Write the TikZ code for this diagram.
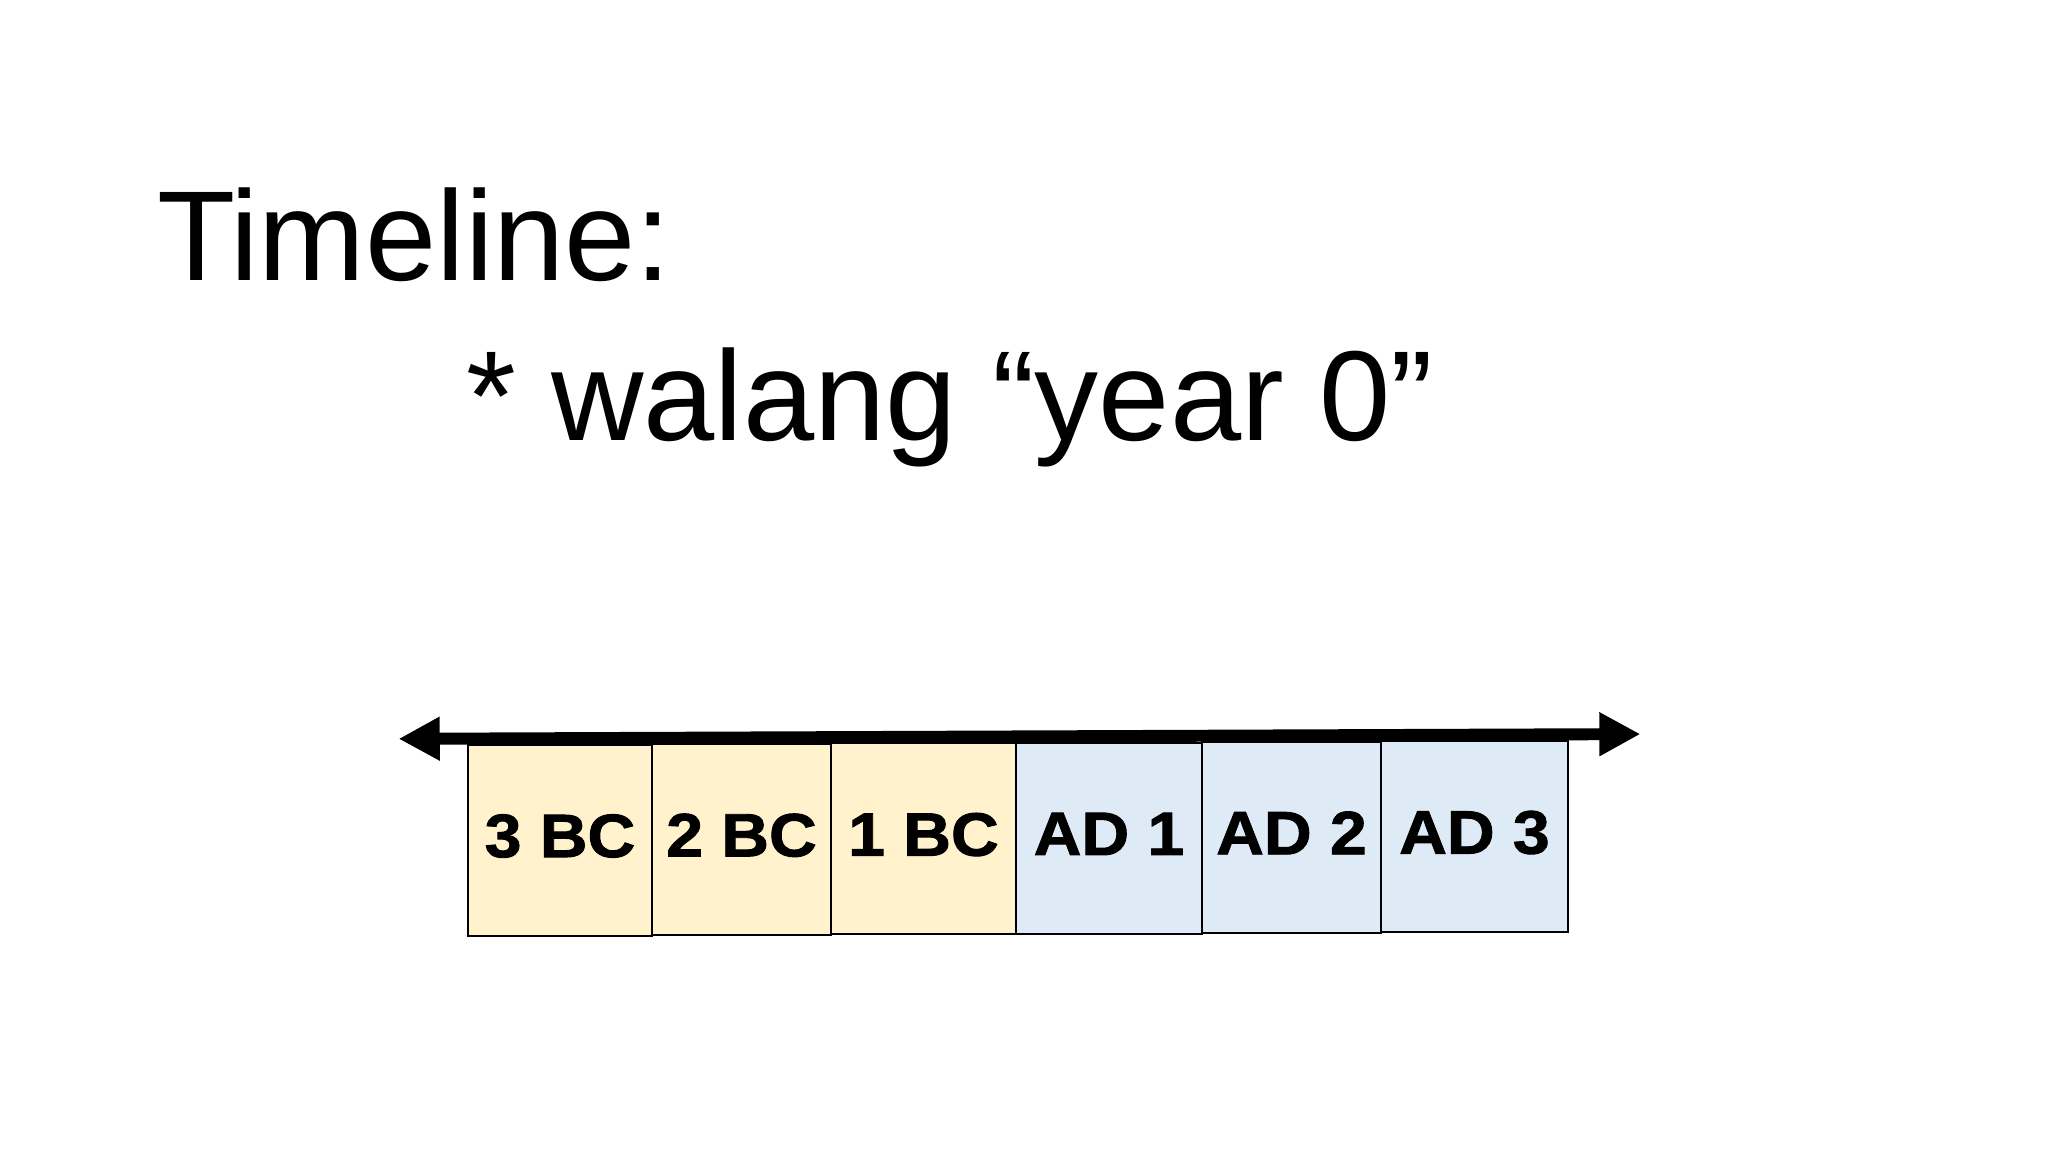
\documentclass[tikz,border=0pt]{standalone}
\usepackage{fontspec}
\setmainfont{Liberation Sans}
\newfontfamily\boxfont{Liberation Sans}[BoldFeatures={FakeStretch=1.08,FakeBold=1.5}]
\usetikzlibrary{arrows.meta}
\definecolor{bcfill}{HTML}{FFF2CC}
\definecolor{adfill}{HTML}{DEEBF7}
\begin{document}
\begin{tikzpicture}[x=0.01cm,y=-0.01cm,
  bigtext/.style={anchor=base west, inner sep=0pt, outer sep=0pt, font=\fontsize{36.4}{44}\selectfont},
  yearbox/.style={draw=black, line width=0.6pt, inner sep=0pt, outer sep=0pt,
    minimum height=1.91cm, text height=12.4pt, text depth=2.85pt,
    font=\boxfont\fontsize{17.4}{20}\selectfont\bfseries},
  bcbox/.style={yearbox, fill=bcfill},
  adbox/.style={yearbox, fill=adfill},
  timeline/.style={line width=3.4pt, >={Triangle[length=11.7pt,width=11.7pt]}, <->}]
\useasboundingbox (0,0) rectangle (2048,1152);
\fill[white] (0,0) rectangle (2048,1152);
\node[bigtext] (title) at (157,281) {Timeline:};
\node[bigtext] (note) at (466,441) {* walang “year 0”};
\begin{scope}[rotate around={0.22:(1020,838)}]
  \node[bcbox, minimum width=1.84cm] (b3) at (560,838.5) {3 BC};
  \node[bcbox, minimum width=1.79cm] (b2) at (741.5,838.5) {2 BC};
  \node[bcbox, minimum width=1.85cm] (b1) at (923.5,838.5) {1 BC};
  \node[adbox, minimum width=1.86cm] (a1) at (1109,838.5) {AD 1};
  \node[adbox, minimum width=1.79cm] (a2) at (1291.5,838.5) {AD 2};
  \node[adbox, minimum width=1.87cm] (a3) at (1474.5,838.5) {AD 3};
  \coordinate (L) at (399,736.5);
  \coordinate (R) at (1641,736.5);
  \draw[timeline] (L) -- (R);
\end{scope}
\end{tikzpicture}
\end{document}
